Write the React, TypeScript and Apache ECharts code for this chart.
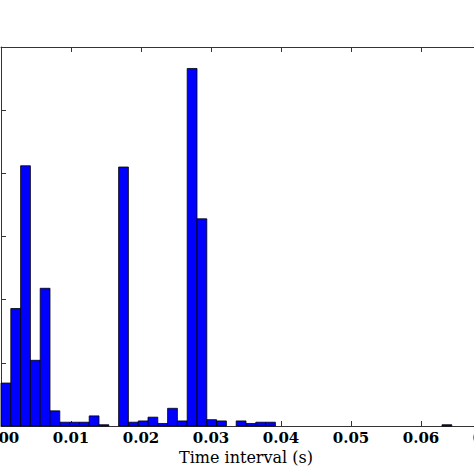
import React, { useEffect, useRef } from "react";
import * as echarts from "echarts";

// Histogram of time intervals (s)
const BIN_START = 0;
const BIN_WIDTH = 0.0014;
const counts: number[] = [
  34, 93, 206, 52, 109, 12, 3, 3, 3, 8,
  1, 0, 205, 3, 4, 7, 2, 14, 4, 283,
  164, 5, 4, 0, 4, 2, 3, 3, 0, 0,
  0, 0, 0, 0, 0, 0, 0, 0, 0, 0,
  0, 0, 0, 0, 0, 1,
];
const xTicks: number[] = [0, 0.01, 0.02, 0.03, 0.04, 0.05, 0.06, 0.07];
const yTicks: number[] = [0, 50, 100, 150, 200, 250, 300];
const xName = "Time interval (s)";

export default function App() {
  const ref = useRef<HTMLDivElement>(null);
  useEffect(() => {
    if (!ref.current) return;
    const chart = echarts.init(ref.current, null, { renderer: "svg" });
    const data = counts.map((c, i) => [
      BIN_START + i * BIN_WIDTH,
      BIN_START + (i + 1) * BIN_WIDTH,
      c,
    ]);
    const axisLine = { show: true, lineStyle: { color: "#333", width: 1 } };
    chart.setOption({
      animation: false,
      backgroundColor: "#ffffff",
      grid: {
        left: 1,
        right: -17,
        top: 47,
        bottom: 48,
        containLabel: false,
        outerBoundsMode: "none",
      },
      xAxis: [
        {
          type: "value",
          min: xTicks[0],
          max: xTicks[xTicks.length - 1],
          interval: 0.01,
          position: "bottom",
          axisLine,
          axisTick: { show: true, inside: true, length: 5, lineStyle: { color: "#333" } },
          splitLine: { show: false },
          axisLabel: {
            show: true,
            margin: 4,
            fontFamily: "DejaVu Serif",
            fontWeight: "bold",
            fontSize: 15,
            color: "#000",
            formatter: (v: number) => v.toFixed(2),
          },
          name: xName,
          nameLocation: "middle",
          nameGap: 23,
          nameTextStyle: { fontFamily: "DejaVu Serif", fontSize: 16, color: "#000" },
        },
        {
          type: "value",
          min: xTicks[0],
          max: xTicks[xTicks.length - 1],
          interval: 0.01,
          position: "top",
          axisLine,
          axisTick: { show: true, inside: true, length: 5, lineStyle: { color: "#333" } },
          splitLine: { show: false },
          axisLabel: { show: false },
        },
      ],
      yAxis: {
        type: "value",
        min: yTicks[0],
        max: yTicks[yTicks.length - 1],
        interval: 50,
        axisLine,
        axisTick: { show: true, inside: true, length: 5, lineStyle: { color: "#333" } },
        splitLine: { show: false },
        axisLabel: { show: false },
      },
      series: [
        {
          type: "custom",
          xAxisIndex: 0,
          yAxisIndex: 0,
          encode: { x: [0, 1], y: 2 },
          data,
          renderItem: (params: any, api: any) => {
            const x0 = api.value(0);
            const x1 = api.value(1);
            const c = api.value(2);
            if (!c) return null;
            const p0 = api.coord([x0, c]);
            const p1 = api.coord([x1, 0]);
            return {
              type: "rect",
              shape: { x: p0[0], y: p0[1], width: p1[0] - p0[0], height: p1[1] - p0[1] },
              style: { fill: "#0000ff", stroke: "#000000", lineWidth: 0.8 },
            };
          },
        },
      ],
    });
    return () => chart.dispose();
  }, []);
  return <div ref={ref} style={{ width: 474, height: 474, position: "absolute", left: 0, top: 0 }} />;
}
